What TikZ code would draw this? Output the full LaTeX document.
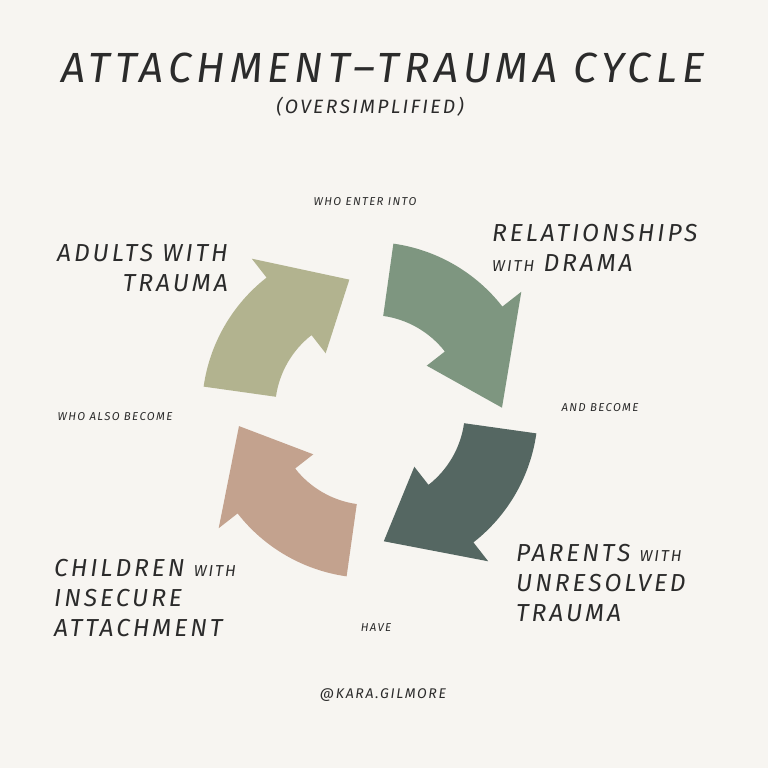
\documentclass[tikz,border=0pt]{standalone}
\usepackage{fontspec}
\setmainfont{Fira Sans}[LetterSpace=12]
\usepackage{tikz}

\definecolor{bgcol}{HTML}{F7F5F1}
\definecolor{ink}{HTML}{2B2B2B}
\definecolor{sage}{HTML}{B2B38F}
\definecolor{moss}{HTML}{7E9680}
\definecolor{slate}{HTML}{556762}
\definecolor{clay}{HTML}{C3A28E}

\tikzset{
  big/.style={font=\fontsize{14}{17}\selectfont\itshape, text=ink, align=left},
  tiny/.style={font=\fontsize{6.5}{8}\selectfont\itshape, text=ink},
}

% curved arrow: #1 colour, #2 tail angle, #3 neck angle, #4 tip angle
\newcommand{\cyclearrow}[4]{%
  \fill[#1] (#2:95) arc[start angle=#2, end angle=#3, radius=95]
    -- (#3:72) -- (#4:132) -- (#3:192) -- (#3:168)
    arc[start angle=#3, end angle=#2, radius=168] -- cycle;
}

\begin{document}
\begin{tikzpicture}[x=0.02cm,y=0.02cm]

\fill[bgcol] (0,0) rectangle (768,768);

\begin{scope}[shift={(370,358)}]
 \cyclearrow{sage}{172}{128}{99}
 \cyclearrow{moss}{82}{38}{1}
 \cyclearrow{slate}{-8}{-52}{-84}
 \cyclearrow{clay}{-98}{-142}{-173}
\end{scope}

\node[font=\fontsize{24}{28}\selectfont\itshape, text=ink] (title) at (383,700) {ATTACHMENT--TRAUMA CYCLE};
\node[font=\fontsize{11}{13}\selectfont\itshape, text=ink] (sub) at (370,661) {(OVERSIMPLIFIED)};

\node[tiny] (enter) at (365,566) {WHO ENTER INTO};
\node[big, align=right, anchor=east] (adults) at (234,500) {ADULTS WITH\\TRAUMA};
\node[big, anchor=west] (rel) at (486,520) {RELATIONSHIPS\\{\small WITH} DRAMA};
\node[tiny] (become) at (600,360) {AND BECOME};
\node[big, anchor=west] (parents) at (510,185) {PARENTS {\small WITH}\\UNRESOLVED\\TRAUMA};
\node[tiny] (have) at (376,140) {HAVE};
\node[big, anchor=west] (children) at (48,170) {CHILDREN {\small WITH}\\INSECURE\\ATTACHMENT};
\node[tiny] (also) at (115,351) {WHO ALSO BECOME};
\node[font=\fontsize{8}{10}\selectfont\itshape, text=ink] (handle) at (383,73) {@KARA.GILMORE};

\end{tikzpicture}
\end{document}
